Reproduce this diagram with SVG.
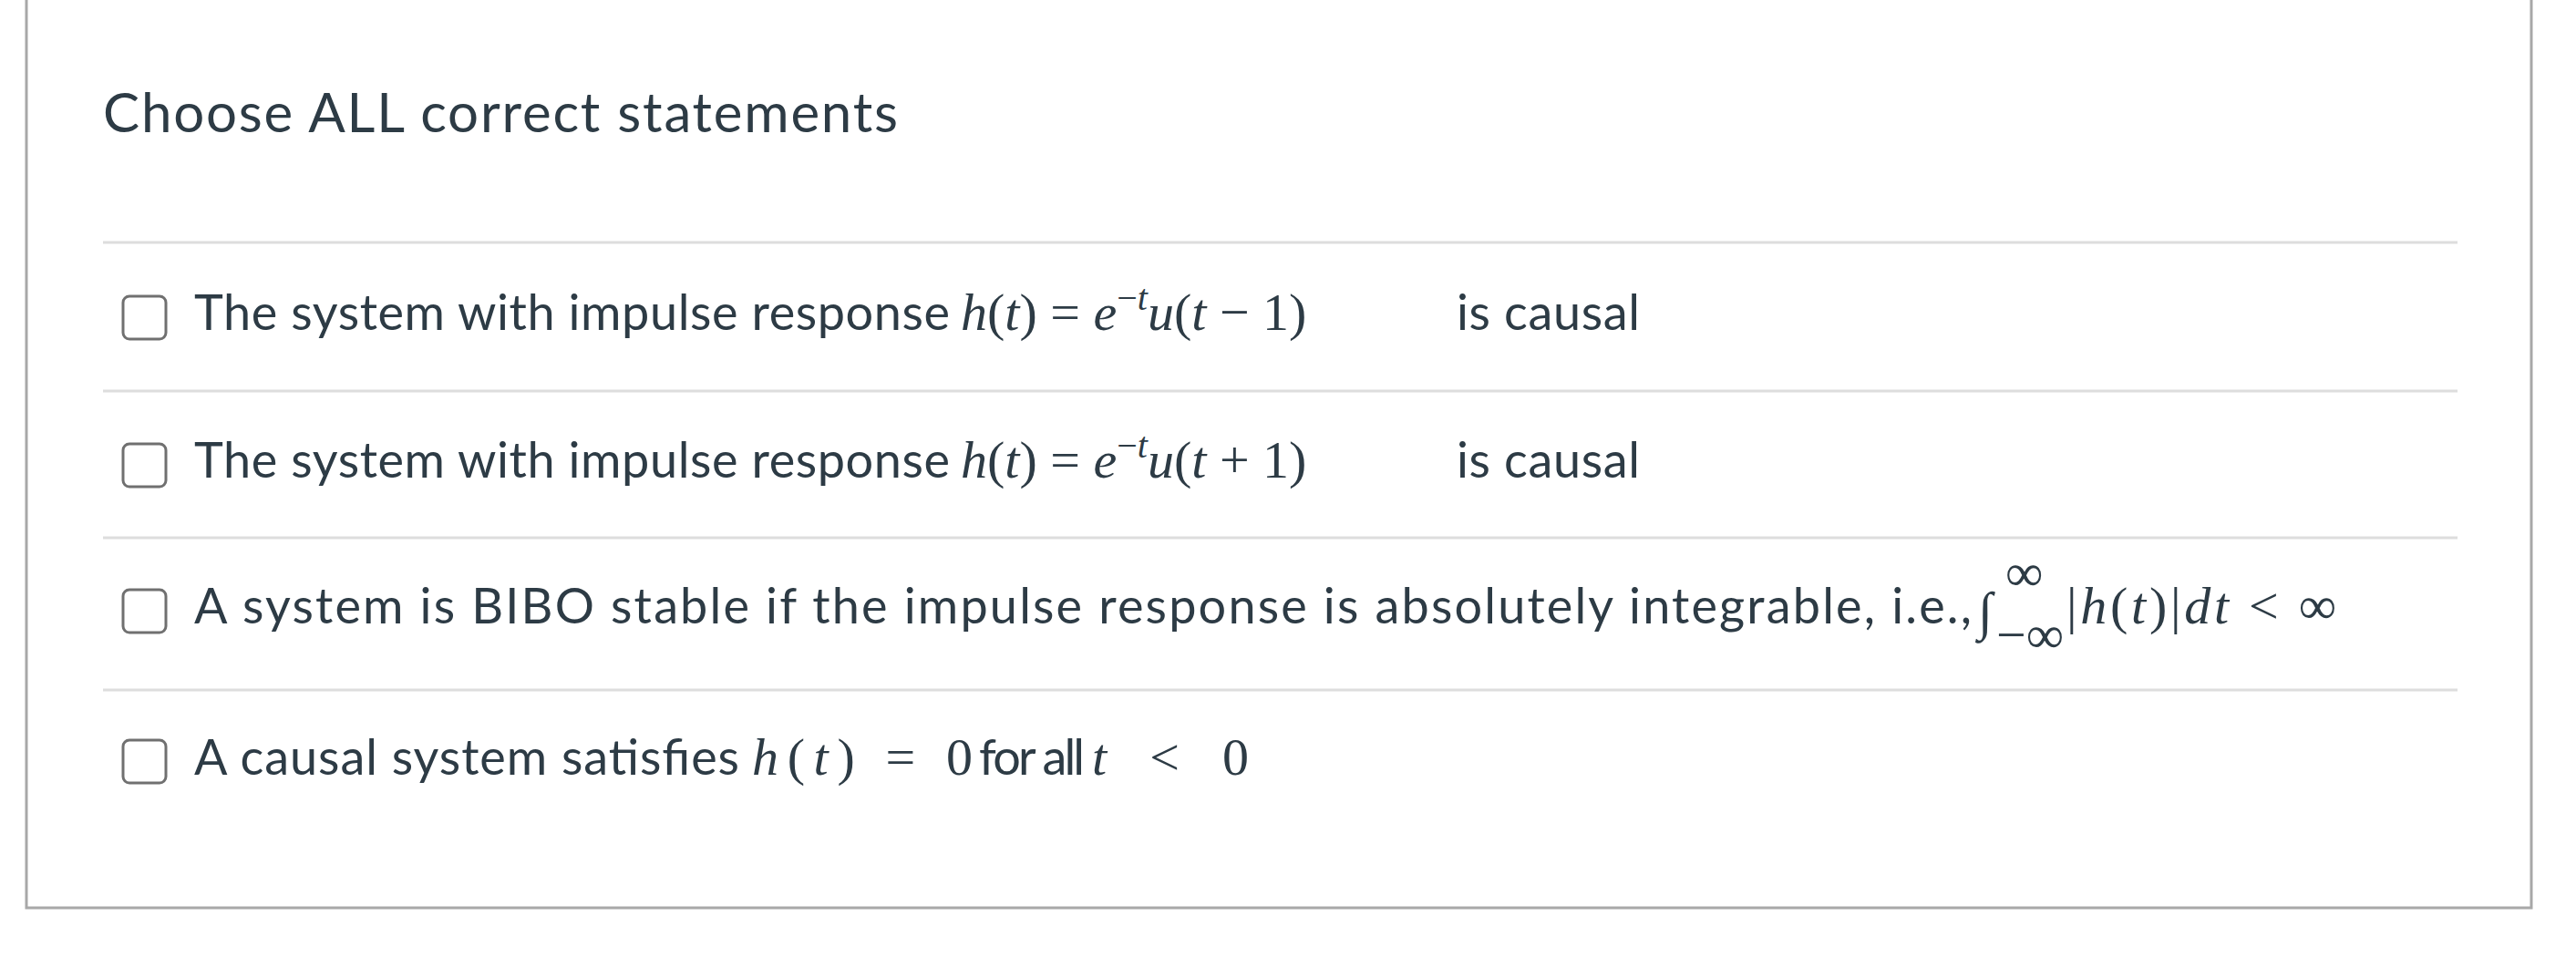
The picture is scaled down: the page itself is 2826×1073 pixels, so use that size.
<svg xmlns="http://www.w3.org/2000/svg" width="2826" height="1073" viewBox="0 0 2826 1073">
<style>
.t{font-family:Lato,"Liberation Sans",sans-serif;font-size:54px;fill:#2d3b45}
.m{font-family:"Liberation Serif","DejaVu Serif",serif;font-size:58px;fill:#2d3b45}
.i{font-style:italic}
.sep{stroke:#dddddd;stroke-width:3}
.cb{fill:#fff;stroke:#707070;stroke-width:3}
</style>
<rect x="0" y="0" width="2826" height="1073" fill="#fff"/>
<path d="M29 -5 V996 H2777 V-5" fill="none" stroke="#a8a8a8" stroke-width="3"/>
<text x="113" y="145" class="t" style="font-size:60px" textLength="872">Choose ALL correct statements</text>
<g id="lines">
<line x1="113" y1="266" x2="2696" y2="266" class="sep"/>
<line x1="113" y1="429" x2="2696" y2="429" class="sep"/>
<line x1="113" y1="590" x2="2696" y2="590" class="sep"/>
<line x1="113" y1="757" x2="2696" y2="757" class="sep"/>
</g>
<g id="opt1">
<rect x="135" y="325" width="47" height="47" rx="7" class="cb"/>
<text x="213" y="362" class="t" textLength="829">The system with impulse response</text>
<text x="1054" y="362" class="m"><tspan class="i">h</tspan>(<tspan class="i">t</tspan>) = <tspan class="i">e</tspan><tspan dy="-22" font-size="40">−<tspan class="i">t</tspan></tspan><tspan dy="22" class="i">u</tspan>(<tspan class="i">t</tspan> − 1)</text>
<text x="1598" y="362" class="t" textLength="201">is causal</text>
</g>
<g id="opt2">
<rect x="135" y="487" width="47" height="47" rx="7" class="cb"/>
<text x="213" y="524" class="t" textLength="829">The system with impulse response</text>
<text x="1054" y="524" class="m"><tspan class="i">h</tspan>(<tspan class="i">t</tspan>) = <tspan class="i">e</tspan><tspan dy="-22" font-size="40">−<tspan class="i">t</tspan></tspan><tspan dy="22" class="i">u</tspan>(<tspan class="i">t</tspan> + 1)</text>
<text x="1598" y="524" class="t" textLength="201">is causal</text>
</g>
<g id="opt3">
<rect x="135" y="647" width="47" height="47" rx="7" class="cb"/>
<text x="213" y="684" class="t" textLength="1950">A system is BIBO stable if the impulse response is absolutely integrable, i.e.,</text>
<text x="2170" y="690" class="m" font-size="66">∫</text>
<text x="2200" y="648" class="m" font-size="36">∞</text>
<text x="2190" y="716" class="m" font-size="36">−∞</text>
<text x="2267" y="684" class="m" textLength="296">|<tspan class="i">h</tspan>(<tspan class="i">t</tspan>)|<tspan class="i">dt</tspan> &lt; ∞</text>
</g>
<g id="opt4">
<rect x="135" y="812" width="47" height="47" rx="7" class="cb"/>
<text x="213" y="850" class="t" textLength="598">A causal system satisfies</text>
<text x="825" y="850" class="m" textLength="242"><tspan class="i">h</tspan>(<tspan class="i">t</tspan>) = 0</text>
<text x="1074" y="850" class="t" textLength="116">for all</text>
<text x="1198" y="850" class="m" textLength="172"><tspan class="i">t</tspan> &lt; 0</text>
</g>
</svg>
